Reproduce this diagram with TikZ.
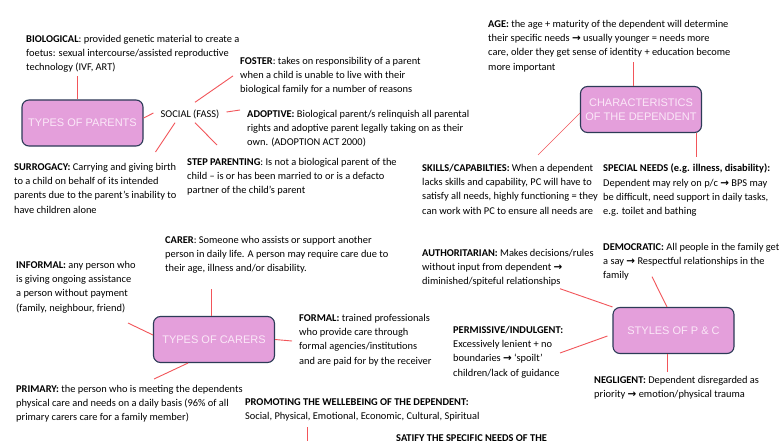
\documentclass[tikz,border=0pt]{standalone}
\usepackage{fontspec}
\setmainfont{Carlito}
\newfontfamily\boxfont{Liberation Sans}
\newfontfamily\arrowfont{DejaVu Sans}
\usepackage{tikz}
\usetikzlibrary{positioning}
\usepackage{xcolor}
\definecolor{topicfill}{HTML}{E49FDB}
\definecolor{topicedge}{HTML}{2C3B57}
\definecolor{topictext}{HTML}{FBE8F8}
\definecolor{linkred}{HTML}{F2555A}
\newcommand{\arr}{{\arrowfont\bfseries\fontsize{10.4}{10}\selectfont →}}

\begin{document}
\begin{tikzpicture}[
  x=1pt, y=-1pt,
  topic/.style={draw=topicedge,fill=topicfill,line width=1.1pt,rounded corners=7pt,minimum width=121pt,minimum height=46pt,align=center,text=topictext,font=\boxfont\fontsize{11}{13.5}\selectfont},
  note/.style={anchor=north west,inner sep=0pt,align=left,font=\fontsize{10.4}{14.2}\selectfont},
  link/.style={draw=linkred,line width=0.9pt}
]
\useasboundingbox[fill=white] (0,0) rectangle (784,441);
\clip (0,0) rectangle (784,441);
% topic boxes
\node[topic] (parents) at (82.5,123) {TYPES OF PARENTS};
\node[topic] (characteristics) at (641,109.5) {CHARACTERISTICS\\OF THE DEPENDENT};
\node[topic] (carers) at (214,339.5) {TYPES OF CARERS};
\node[topic] (styles) at (673.5,330.5) {STYLES OF P \& C};
% types of parents
\node[note] (bio) at (26,35) {\textbf{BIOLOGICAL}: provided genetic material to create a\\foetus: sexual intercourse/assisted reproductive\\technology (IVF, ART)};
\node[note,anchor=center] (social) at (190,114) {SOCIAL (FASS)};
\node[note] (foster) at (240,57) {\textbf{FOSTER}: takes on responsibility of a parent\\when a child is unable to live with their\\biological family for a number of reasons};
\node[note] (adoptive) at (247,110) {\textbf{ADOPTIVE:} Biological parent/s relinquish all parental\\rights and adoptive parent legally taking on as their\\own. (ADOPTION ACT 2000)};
\node[note] (surrogacy) at (14,163) {\textbf{SURROGACY:} Carrying and giving birth\\to a child on behalf of its intended\\parents due to the parent’s inability to\\have children alone};
\node[note] (steppar) at (187,158) {\textbf{STEP PARENTING}: Is not a biological parent of the\\child – is or has been married to or is a defacto\\partner of the child’s parent};
% characteristics of the dependent
\node[note] (age) at (488,20) {\textbf{AGE:} the age + maturity of the dependent will determine\\their specific needs \arr{} usually younger = needs more\\care, older they get sense of identity + education become\\more important};
\node[note] (skills) at (422,164) {\textbf{SKILLS/CAPABILTIES:} When a dependent\\lacks skills and capability, PC will have to\\satisfy all needs, highly functioning = they\\can work with PC to ensure all needs are};
\node[note] (special) at (603,164) {\textbf{SPECIAL NEEDS (e.g. illness, disability):}\\Dependent may rely on p/c \arr{} BPS may\\be difficult, need support in daily tasks,\\e.g. toilet and bathing};
% types of carers
\node[note] (carer) at (165,236) {\textbf{CARER}: Someone who assists or support another\\person in daily life. A person may require care due to\\their age, illness and/or disability.};
\node[note] (informal) at (16,261) {\textbf{INFORMAL:} any person who\\is giving ongoing assistance\\a person without payment\\(family, neighbour, friend)};
\node[note] (formal) at (299,314) {\textbf{FORMAL:} trained professionals\\who provide care through\\formal agencies/institutions\\and are paid for by the receiver};
\node[note] (primary) at (16,385) {\textbf{PRIMARY:} the person who is meeting the dependents\\physical care and needs on a daily basis (96\% of all\\primary carers care for a family member)};
\node[note] (promoting) at (245,398) {\textbf{PROMOTING THE WELLEBEING OF THE DEPENDENT:}\\Social, Physical, Emotional, Economic, Cultural, Spiritual};
\node[note] (satisfy) at (396,434) {\textbf{SATIFY THE SPECIFIC NEEDS OF THE}};
\coordinate (wellbeing) at (307,452);
% styles of p & c
\node[note] (authoritarian) at (422,249) {\textbf{AUTHORITARIAN:} Makes decisions/rules\\without input from dependent \arr\\diminished/spiteful relationships};
\node[note] (democratic) at (603,243) {\textbf{DEMOCRATIC:} All people in the family get\\a say \arr{} Respectful relationships in the\\family};
\node[note] (permissive) at (453,326) {\textbf{PERMISSIVE/INDULGENT:}\\Excessively lenient + no\\boundaries \arr{} ‘spoilt’\\children/lack of guidance};
\node[note] (negligent) at (594,376) {\textbf{NEGLIGENT:} Dependent disregarded as\\priority \arr{} emotion/physical trauma};

\path[link]
([xshift=-5.5pt]parents.north) edge ([xshift=51pt,yshift=-3pt]bio.south west)
([yshift=5pt]parents.east) edge ([xshift=-7pt,yshift=1pt]social.west)
([xshift=5pt,yshift=7pt]social.north) edge ([xshift=-7pt]foster.west)
([xshift=7pt,yshift=2pt]social.east) edge ([xshift=-7pt]adoptive.north west)
([xshift=-15pt,yshift=-4pt]social.south) edge ([xshift=-21pt,yshift=11pt]surrogacy.north east)
([xshift=5pt,yshift=-4pt]social.south) edge ([xshift=30pt,yshift=13pt]steppar.north west)
([xshift=-8pt]characteristics.north) edge ([xshift=145pt,yshift=10pt]age.south west)
([xshift=55pt]characteristics.south) edge ([xshift=93pt,yshift=7pt]special.north west)
([xshift=-3pt]carers.north) edge ([xshift=46pt,yshift=-15pt]carer.south west)
([yshift=4.5pt]carers.west) edge ([xshift=112pt,yshift=-10pt]informal.south west)
(carers.east) edge ([xshift=-7pt,yshift=-27pt]formal.north west)
([xshift=-26pt]carers.south) edge ([xshift=138pt,yshift=6pt]primary.north west)
([xshift=62pt,yshift=-6pt]promoting.south west) edge (wellbeing)
(styles.north west) edge ([xshift=138pt,yshift=-2pt]authoritarian.south west)
([xshift=-6.5pt]styles.north) edge ([xshift=49pt,yshift=4pt]democratic.south west)
([xshift=-5pt,yshift=-5.5pt]styles.west) edge ([xshift=107pt,yshift=-27pt]permissive.north west)
([xshift=-6.5pt]styles.south) edge ([xshift=73pt,yshift=4pt]negligent.north west)
;
\path[link,line width=0.5pt]
([yshift=-3.5pt]characteristics.west) edge ([xshift=116pt,yshift=9pt]skills.north west);
\end{tikzpicture}
\end{document}
